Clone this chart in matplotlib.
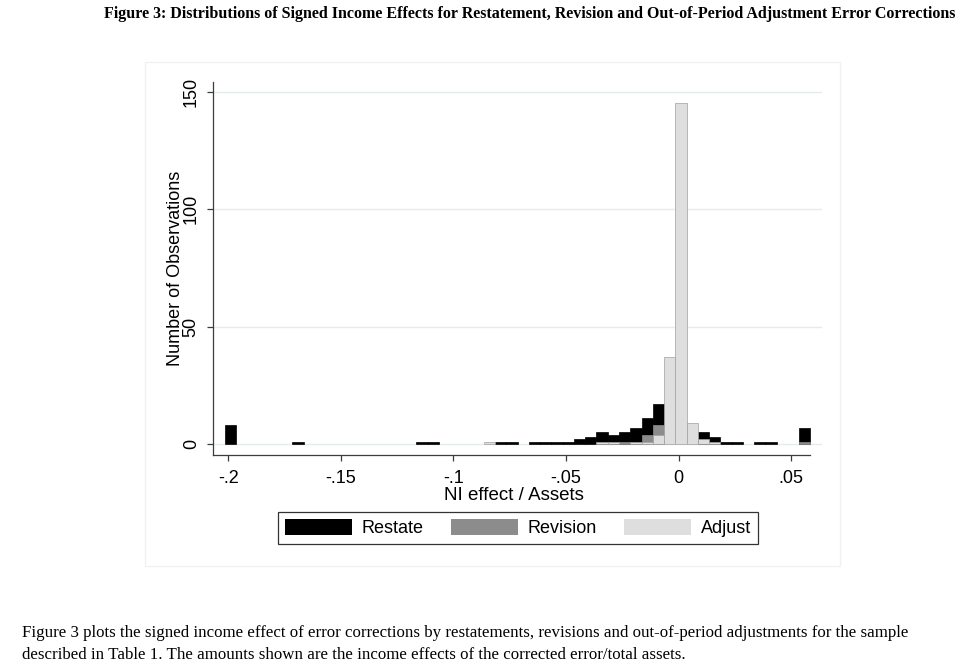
import matplotlib
matplotlib.use("Agg")
import matplotlib.pyplot as plt
from matplotlib.patches import Patch, Rectangle
import numpy as np

# ---------------- data ----------------
title = ("Figure 3: Distributions of Signed Income Effects for Restatement, "
         "Revision and Out-of-Period Adjustment Error Corrections")
caption_lines = [
    "Figure 3 plots the signed income effect of error corrections by restatements, "
    "revisions and out-of-period adjustments for the sample",
    "described in Table 1. The amounts shown are the income effects of the corrected error/total assets.",
]
series_names = ["Restate", "Revision", "Adjust"]
bin_start = -0.2015
bin_width = 0.005
# counts per bin (52 bins)
restate = [8, 0, 0, 0, 0, 0, 1, 0, 0, 0,
           0, 0, 0, 0, 0, 0, 0, 1, 1, 0,
           0, 0, 0, 0, 1, 1, 0, 1, 1, 1,
           1, 2, 3, 5, 4, 5, 7, 11, 17, 0,
           0, 0, 5, 3, 1, 1, 0, 1, 1, 0,
           0, 7]
revision = [0, 0, 0, 0, 0, 0, 0, 0, 0, 0,
            0, 0, 0, 0, 0, 0, 0, 0, 0, 0,
            0, 0, 0, 0, 0, 0, 0, 0, 0, 0,
            0, 0, 0, 0, 0, 1, 0, 4, 8, 0,
            0, 0, 0, 0, 0, 0, 0, 0, 0, 0,
            0, 1]
adjust = [0, 0, 0, 0, 0, 0, 0, 0, 0, 0,
          0, 0, 0, 0, 0, 0, 0, 0, 0, 0,
          0, 0, 0, 1, 0, 0, 0, 0, 0, 0,
          0, 0, 0, 1, 1, 0, 1, 1, 4, 37,
          145, 9, 2, 1, 0, 0, 0, 0, 0, 0,
          0, 0]
x_ticks = [-0.2, -0.15, -0.1, -0.05, 0, 0.05]
x_tick_labels = ["-.2", "-.15", "-.1", "-.05", "0", ".05"]
y_ticks = [0, 50, 100, 150]
y_tick_labels = ["0", "50", "100", "150"]
x_label = "NI effect / Assets"
y_label = "Number of Observations"

# ---------------- styles ----------------
colors = ["#000000", "#8c8c8c", "#dedede"]
edges = ["#000000", "#8c8c8c", "#a0a0a0"]
W, H = 965, 669
sans = ["Liberation Sans", "DejaVu Sans"]
serif = ["Liberation Serif", "DejaVu Serif"]
fs = 13

fig = plt.figure(figsize=(W / 100, H / 100), dpi=100)
fig.patch.set_facecolor("white")

# faint graph-region outline
fig.add_artist(Rectangle((145 / W, 1 - 566 / H), (840 - 145) / W, (566 - 62) / H,
                         transform=fig.transFigure, fill=False,
                         edgecolor="#f1f1f1", linewidth=1.0))

ax_l, ax_r, ax_t, ax_b = 213, 822, 81.7, 455
ax = fig.add_axes([ax_l / W, 1 - ax_b / H, (ax_r - ax_l) / W, (ax_b - ax_t) / H])
ax.set_facecolor("white")

px_per_unit = 2252.4
x0_px = 678.7
ax.set_xlim((ax_l - x0_px) / px_per_unit, (ax_r - x0_px) / px_per_unit)
py_per_count = 2.349
y0_px = 444.0
ax.set_ylim((y0_px - ax_b) / py_per_count, (y0_px - ax_t) / py_per_count)

# gridlines
for yv in y_ticks:
    ax.axhline(yv, color="#e4ecee", linewidth=1.0, zorder=0)

lefts = [bin_start + k * bin_width for k in range(len(restate))]
for vals, c, e in zip([restate, revision, adjust], colors, edges):
    xs = [l for l, v in zip(lefts, vals) if v > 0]
    hs = [v for v in vals if v > 0]
    ax.bar(xs, hs, width=bin_width, align="edge", color=c,
           edgecolor=e, linewidth=0.5, zorder=2)

for s in ["top", "right"]:
    ax.spines[s].set_visible(False)
for s in ["left", "bottom"]:
    ax.spines[s].set_color("#3c3c3c")
    ax.spines[s].set_linewidth(0.9)
ax.spines["bottom"].set_bounds(ax.get_xlim()[0], 0.0585)

ax.set_xticks(x_ticks)
ax.set_xticklabels(x_tick_labels, fontfamily=sans, fontsize=fs)
ax.set_yticks(y_ticks)
ax.set_yticklabels(y_tick_labels, fontfamily=sans, fontsize=fs,
                   rotation=90, va="center")
ax.tick_params(axis="both", direction="out", length=4.5, width=0.9,
               color="#3c3c3c")
ax.tick_params(axis="y", pad=5)
ax.tick_params(axis="x", pad=6)

ax.set_xlabel(x_label, fontfamily=sans, fontsize=13.5)
ax.xaxis.set_label_coords((514 - ax_l) / (ax_r - ax_l), (ax_b - 487) / (ax_b - ax_t))
ax.set_ylabel(y_label, fontfamily=sans, fontsize=fs)
ax.yaxis.label.set_va("center")
ax.yaxis.set_label_coords((176 - ax_l) / (ax_r - ax_l), 0.5)

handles = [Patch(facecolor=c, edgecolor="none") for c in colors]
leg = fig.legend(handles, series_names, loc="center",
                 bbox_to_anchor=(518 / W, 1 - 528 / H), ncol=3,
                 prop={"family": sans, "size": fs},
                 handlelength=3.7, handleheight=1.0, handletextpad=0.55,
                 columnspacing=1.5, borderpad=0.4, fancybox=False,
                 frameon=True, edgecolor="black", borderaxespad=0)
leg.get_frame().set_linewidth(0.9)

fig.text(530 / W, 1 - 14 / H, title, ha="center", va="center",
         fontfamily=serif, fontweight="bold", fontsize=11.5)
fig.text(22 / W, 1 - 633 / H, caption_lines[0], ha="left", va="center",
         fontfamily=serif, fontsize=12.2)
fig.text(22 / W, 1 - 655 / H, caption_lines[1], ha="left", va="center",
         fontfamily=serif, fontsize=12.2)

fig.savefig("out.png", dpi=100, facecolor="white")
